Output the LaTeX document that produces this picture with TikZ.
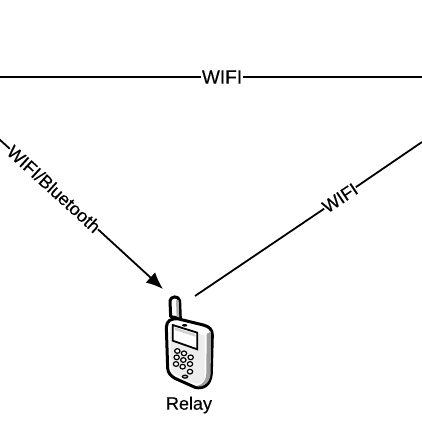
\documentclass[tikz,border=0pt]{standalone}
\usepackage{fontspec}
\setmainfont{Liberation Sans}
\newfontfamily\lblfont[FakeBold=0.25]{Liberation Sans}
\usetikzlibrary{arrows.meta}
\tikzset{
  lbl/.style={fill=white,inner sep=0.4pt,font=\lblfont\fontsize{18}{18}\selectfont},
  link/.style={draw=black,line width=1.5pt},
  dlink/.style={draw=black,line width=1.8pt},
  outl/.style={draw=black,line width=3pt,line join=round}
}
\begin{document}
\begin{tikzpicture}[x=1pt,y=-1pt]
\useasboundingbox (0,0) rectangle (422,422);
\coordinate (tl) at (0,77);
\coordinate (tr) at (422,77);
\coordinate (ll) at (-1,139);
\coordinate (lr) at (163,289);
\coordinate (rl) at (195,296);
\coordinate (rr) at (422,142);
\node[lbl,font=\lblfont\fontsize{19}{19}\selectfont] (wt) at (222,77) {WIFI};
\node[lbl,rotate=-42.5,inner sep=0pt] (wb) at (54,189) {WIFI/Bluetooth};
\node[lbl,rotate=33.5,inner sep=0pt] (wr) at (340,198) {WIFI};
\draw[link] (tl) -- (wt);
\draw[link] (wt) -- (tr);
\draw[dlink] (ll) -- (wb);
\draw[dlink,-{Latex[length=17pt,width=14pt]}] (wb) -- (lr);
\draw[dlink] (rl) -- (wr);
\draw[dlink] (wr) -- (rr);
\node[font=\lblfont\fontsize{18}{18}\selectfont] (relay) at (189,405) {Relay};
\begin{scope}[shift={(140,270)},scale=1/3]
 % antenna
 \draw[outl,fill=white] (92,140) -- (90,92) .. controls (92,78) and (116,76) .. (119,92) -- (121,145) -- cycle;
 \fill[gray!60] (108,90) -- (116,90) -- (118,143) -- (110,143) -- cycle;
 % body
 \draw[outl,fill=white] (79,172) .. controls (80,152) and (92,146) .. (112,146)
    -- (190,165) .. controls (208,170) and (217,178) .. (217,195)
    -- (214,310) .. controls (212,345) and (190,358) .. (165,352)
    -- (105,325) .. controls (92,318) and (84,308) .. (83,295) -- cycle;
 % face
 \fill[gray!14] (90,172) -- (194,196) -- (194,325) .. controls (188,342) and (170,345) .. (150,335) -- (105,312) .. controls (96,305) and (92,298) .. (92,285) -- cycle;
 % shaded right side
 \fill[gray!75] (200,192) -- (213,184) -- (212,310) .. controls (210,338) and (192,352) .. (170,349)
    .. controls (190,342) and (199,330) .. (199,310) -- cycle;
 % screen
 \draw[draw=black,line width=1.8pt,fill=white] (98,165) -- (172,188) -- (172,238) -- (98,212) -- cycle;
 \fill[gray!35] (104,172) -- (166,192) -- (166,200) -- (104,180) -- cycle;
 % earpiece and mic
 \fill[black] (134,166) ellipse (8 and 4);
 \draw[line width=1.2pt,fill=gray!50] (135,320) ellipse (8 and 4.5);
 % keys
 \foreach \a/\b in {112/243,132/250,152/262,110/262,130/270,150/282,108/282,128/290,150/305}
   \draw[line width=1.2pt,fill=white] (\a,\b) ellipse (8 and 7);
\end{scope}
\end{tikzpicture}
\end{document}
